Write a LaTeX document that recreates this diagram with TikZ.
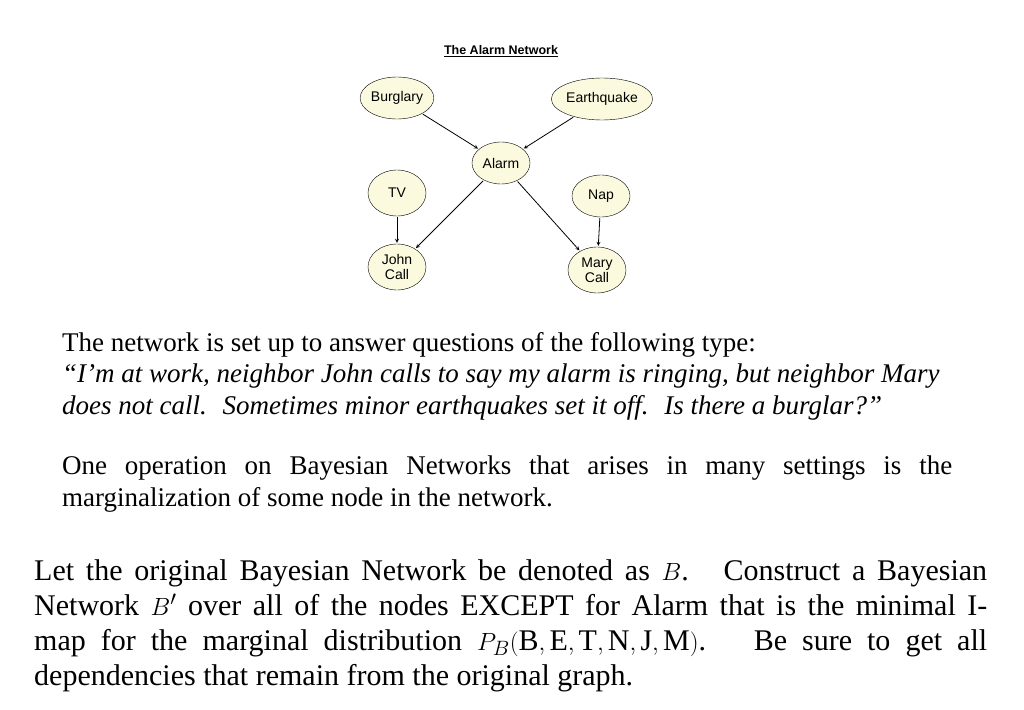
\documentclass[tikz,border=0pt]{standalone}
\usepackage{fontspec}
\setmainfont{Liberation Serif}
\newfontfamily\netfont{Liberation Sans}
\usetikzlibrary{positioning}
\definecolor{nodefill}{RGB}{252,250,222}

\tikzset{
  var/.style={ellipse, draw, thin, fill=nodefill, font=\netfont\fontsize{14}{15.5}\selectfont,
    inner sep=0pt, minimum width=58pt, minimum height=42pt, align=center},
  dep/.style={->, >=stealth, thick, shorten >=1pt, shorten <=1pt},
  para/.style={anchor=north west, inner sep=0pt, align=justify}
}
\usetikzlibrary{shapes.geometric}

\begin{document}
\begin{tikzpicture}[x=1pt,y=-1pt]
				\useasboundingbox (0,0) rectangle (1024,709);
				% Title
				\node[font=\netfont\bfseries\fontsize{12.5}{14}\selectfont] (title) at (501,51) {\underline{The Alarm Network}};
				
				% The variables
				\node[var] (burglary) at (397,98) {Burglary};
				\node[var, minimum width=80pt] (quake) at (602,99) {Earthquake};
				\node[var] (alarm) at (501,163) {Alarm};
				\node[var, minimum height=46pt] (tv) at (397,193) {TV};
				\node[var] (nap) at (601,196) {Nap};
				\node[var, minimum height=46pt] (john) at (397,267) {John\\Call};
				\node[var, minimum height=46pt] (mary) at (597,270) {Mary\\Call};
				
				% Dependencies
				\draw[dep] (burglary) -- (alarm);
				\draw[dep] (quake) -- (alarm);
				\draw[dep] (alarm) -- (john);
				\draw[dep] (alarm) -- (mary);
				\draw[dep] (tv) -- (john);
				\draw[dep] (nap) -- (mary);
				
				% Question text
				\node[para, text width=890pt, font=\fontsize{27}{31.5}\selectfont] (question) at (62,332)
				  {The network is set up to answer questions of the following type:\\
				   \textit{``I'm at work, neighbor John calls to say my alarm is ringing, but neighbor Mary\\ does not call. \ Sometimes minor earthquakes set it off. \ Is there a burglar?''}};
				\node[para, text width=890pt, font=\fontsize{27}{31.5}\selectfont] (operation) at (62,456)
				  {One operation on Bayesian Networks that arises in many settings is the\linebreak marginalization of some node in the network.};
				\node[para, text width=953pt, font=\fontsize{30}{35}\selectfont] (task) at (34,559)
				  {Let the original Bayesian Network be denoted as $B$. \ Construct a Bayesian\linebreak Network $B'$ over all of the nodes EXCEPT for Alarm that is the minimal I-\linebreak map for the marginal distribution $P_B(\mathrm{B,E,T,N,J,M})$. \ Be sure to get all\linebreak dependencies that remain from the original graph.};
			\end{tikzpicture}
\end{document}
